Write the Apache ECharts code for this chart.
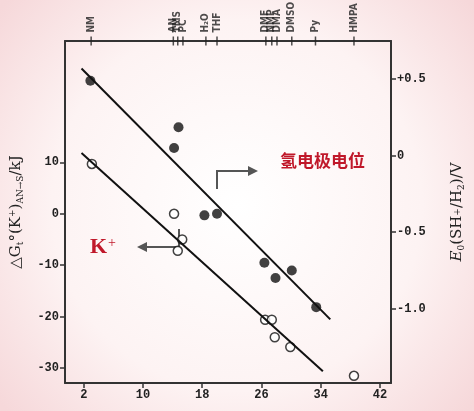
<!DOCTYPE html>
<html><head><meta charset="utf-8">
<script src="https://cdn.jsdelivr.net/npm/echarts@6/dist/echarts.min.js"></script>
<style>html,body{margin:0;padding:0}#c{width:474px;height:411px}</style></head>
<body><div id="c"></div>
<script>
const xTicks=[2,10,18,26,34,42];
const yLeftTicks=[10,0,-10,-20,-30];
const yRightTicks=[0.5,0,-0.5,-1.0];
const solvents=['NM','AN','TMS','PC','H2O','THF','DMF','NMP','DMA','DMSO','Py','HMPA'];
const solventX=[3.0,14.1,14.7,15.4,18.5,20.0,26.6,27.4,28.1,30.1,33.3,38.5];
const hydrogenPts=[[2.9,0.49],[14.8,0.186],[14.2,0.05],[18.3,-0.39],[20.0,-0.38],[26.4,-0.70],[27.9,-0.80],[30.1,-0.75],[33.4,-0.99]];
const hydrogenLine=[[1.7,0.57],[35.3,-1.07]];
const kPts=[[3.1,9.7],[14.2,0],[15.3,-5],[14.7,-7.2],[26.5,-20.6],[27.4,-20.6],[27.8,-24],[29.9,-25.9],[38.5,-31.5]];
const kLine=[[1.7,11.8],[34.3,-30.6]];
const XMIN=-0.53,XMAX=43.5,YMIN=-32.9,YMAX=33.6,VMIN=-1.486,VMAX=0.75;
const F='Liberation Mono';
const lab={fontFamily:F,fontSize:12,fontWeight:'bold',color:'#222'};
const line={onZero:false,lineStyle:{color:'#333',width:2}};
const ch=echarts.init(document.getElementById('c'));
ch.setOption({
 backgroundColor:{type:'radial',x:0.5,y:0.5,r:0.75,colorStops:[{offset:0,color:'#ffffff'},{offset:0.6,color:'#fdf3f3'},{offset:1,color:'#f6d8da'}]},
 grid:{left:62,right:81,top:41,bottom:28},
 xAxis:[
  {type:'value',min:XMIN,max:XMAX,splitLine:{show:false},axisLine:line,
   axisTick:{customValues:xTicks,length:5,lineStyle:{color:'#333',width:1.5}},
   axisLabel:Object.assign({customValues:xTicks,margin:6},lab)},
  {type:'value',position:'top',min:XMIN,max:XMAX,splitLine:{show:false},axisLine:line,axisTick:{show:false},axisLabel:{show:false}}
 ],
 yAxis:[
  {type:'value',min:YMIN,max:YMAX,splitLine:{show:false},axisLine:line,
   axisTick:{customValues:yLeftTicks,length:5,lineStyle:{color:'#333',width:1.5}},
   axisLabel:Object.assign({customValues:yLeftTicks,margin:6},lab),
   name:'{a|△G}{s|t}{a|°(K}{p|+}{a|)}{s|AN→S}{a|/kJ}',nameLocation:'middle',nameGap:40,nameRotate:90,
   nameTextStyle:{rich:{a:{fontFamily:'DejaVu Serif',fontSize:15,color:'#222'},s:{fontFamily:'DejaVu Serif',fontSize:9,color:'#222',verticalAlign:'bottom',padding:[8,0,0,0]},p:{fontFamily:'DejaVu Serif',fontSize:9,color:'#222',verticalAlign:'top'}}}},
  {type:'value',position:'right',min:VMIN,max:VMAX,splitLine:{show:false},axisLine:Object.assign({show:true},line),
   axisTick:{show:true,customValues:yRightTicks,length:5,lineStyle:{color:'#333',width:1.5}},
   axisLabel:Object.assign({customValues:yRightTicks,margin:6,formatter:v=>v>0?'+'+v.toFixed(1):(v===0?'0':v.toFixed(1))},lab),
   name:'{i|E}{s|0}{a|(SH}{p|+}{a|/H}{s|2}{a|)/V}',nameLocation:'middle',nameGap:58,nameRotate:90,
   nameTextStyle:{rich:{a:{fontFamily:'DejaVu Serif',fontSize:15,color:'#222'},i:{fontFamily:'DejaVu Serif',fontStyle:'italic',fontSize:15,color:'#222'},s:{fontFamily:'DejaVu Serif',fontSize:9,color:'#222',padding:[8,0,0,0]},p:{fontFamily:'DejaVu Serif',fontSize:9,color:'#222'}}}}
 ],
 series:[
  {type:'line',xAxisIndex:0,yAxisIndex:1,data:hydrogenLine,symbol:'none',lineStyle:{color:'#111',width:2},silent:true},
  {type:'line',xAxisIndex:0,yAxisIndex:0,data:kLine,symbol:'none',lineStyle:{color:'#111',width:2},silent:true},
  {type:'scatter',xAxisIndex:0,yAxisIndex:1,data:hydrogenPts,symbolSize:10,itemStyle:{color:'#111'}},
  {type:'scatter',xAxisIndex:0,yAxisIndex:0,data:kPts,symbolSize:9,itemStyle:{color:'#fff',borderColor:'#111',borderWidth:1.5}},
  {type:'scatter',xAxisIndex:1,yAxisIndex:0,data:solventX.map((x,i)=>({value:[x,YMAX],name:solvents[i]})),
   symbol:'rect',symbolSize:[1.5,9],itemStyle:{color:'#222'},
   label:{show:true,position:'top',distance:4,rotate:90,align:'left',verticalAlign:'middle',formatter:p=>p.name==='H2O'?'H₂O':p.name,
     fontFamily:'DejaVu Sans Condensed',fontWeight:'bold',fontSize:10,color:'#222'}}
 ],
 graphic:[
  {type:'text',left:280,top:152,style:{text:'氢电极电位',fill:'#c0182a',font:'bold 17px "Noto Sans CJK SC"'}},
  {type:'polyline',shape:{points:[[217,189],[217,171],[250,171]]},style:{stroke:'#555',lineWidth:2,fill:null}},
  {type:'polygon',shape:{points:[[258,171],[248,166],[248,176]]},style:{fill:'#555'}},
  {type:'text',left:90,top:236,style:{text:'K',fill:'#c0182a',font:'bold 22px "Liberation Serif"'}},
  {type:'text',left:108,top:236,style:{text:'+',fill:'#c0182a',font:'14px "Liberation Serif"'}},
  {type:'polyline',shape:{points:[[179,229],[179,247],[145,247]]},style:{stroke:'#555',lineWidth:2,fill:null}},
  {type:'polygon',shape:{points:[[137,247],[147,242],[147,252]]},style:{fill:'#555'}}
 ]
});
</script></body></html>
